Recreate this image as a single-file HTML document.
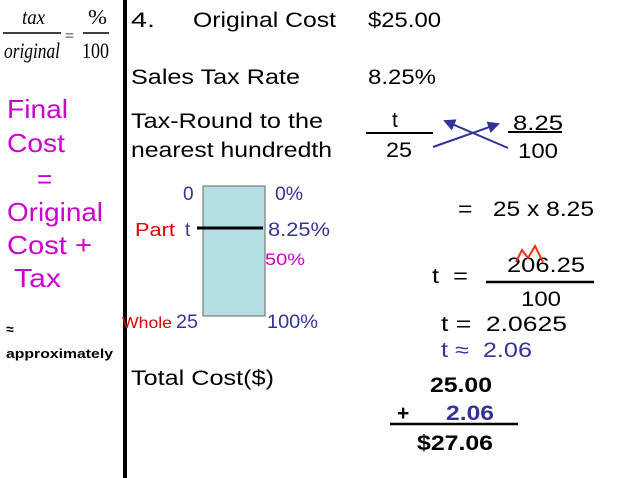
<!DOCTYPE html>
<html><head><meta charset="utf-8"><style>
html,body{margin:0;padding:0;background:#fff;width:638px;height:478px;overflow:hidden}
svg{display:block}
text{font-family:"Liberation Sans",Arial,sans-serif;white-space:pre}
.serif{font-family:"Liberation Serif",serif}
</style></head><body>
<svg width="638" height="478" viewBox="0 0 638 478">
<defs><marker id="ah" markerWidth="6" markerHeight="6" refX="5" refY="3" orient="auto"><path d="M0,0 L6,3 L0,6 Z" fill="#333399"/></marker></defs>
<rect x="123" y="0" width="4" height="478" fill="#000"/>
<g>
<text class="serif" x="22" y="24" font-size="21" font-style="italic" textLength="23" lengthAdjust="spacingAndGlyphs">tax</text>
<line x1="3" y1="33" x2="61" y2="33" stroke="#000" stroke-width="1.5"/>
<text class="serif" x="4" y="58" font-size="22" font-style="italic" textLength="56" lengthAdjust="spacingAndGlyphs">original</text>
<text class="serif" x="65" y="41" font-size="16">=</text>
<text class="serif" x="88" y="24" font-size="21" textLength="19" lengthAdjust="spacingAndGlyphs">%</text>
<line x1="83" y1="33" x2="109" y2="33" stroke="#000" stroke-width="1.5"/>
<text class="serif" x="82" y="58" font-size="22" textLength="27" lengthAdjust="spacingAndGlyphs">100</text>
</g>
<g fill="#cc00cc" font-size="26">
<text x="7" y="118" textLength="61" lengthAdjust="spacingAndGlyphs">Final</text>
<text x="7" y="152" textLength="58" lengthAdjust="spacingAndGlyphs">Cost</text>
<text x="37" y="188">=</text>
<text x="7" y="221" textLength="96" lengthAdjust="spacingAndGlyphs">Original</text>
<text x="7" y="254" textLength="85" lengthAdjust="spacingAndGlyphs">Cost +</text>
<text x="14" y="287" textLength="47" lengthAdjust="spacingAndGlyphs">Tax</text>
</g>
<g font-weight="bold">
<text x="6" y="334" font-size="14">≈</text><text x="6" y="358" font-size="13" textLength="107" lengthAdjust="spacingAndGlyphs">approximately</text>
</g>
<g font-size="21" fill="#000">
<text x="131" y="27" textLength="24" lengthAdjust="spacingAndGlyphs">4.</text>
<text x="193" y="27" textLength="143" lengthAdjust="spacingAndGlyphs">Original Cost</text>
<text x="368" y="27" textLength="73" lengthAdjust="spacingAndGlyphs">$25.00</text>
<text x="131" y="84" textLength="169" lengthAdjust="spacingAndGlyphs">Sales Tax Rate</text>
<text x="368" y="84" textLength="68" lengthAdjust="spacingAndGlyphs">8.25%</text>
<text x="131" y="128" textLength="192" lengthAdjust="spacingAndGlyphs">Tax-Round to the</text>
<text x="131" y="157" textLength="201" lengthAdjust="spacingAndGlyphs">nearest hundredth</text>
<text x="131" y="385" textLength="143" lengthAdjust="spacingAndGlyphs">Total Cost($)</text>
</g>
<g>
<rect x="203" y="186" width="62" height="130" fill="#b3dfe2" stroke="#666" stroke-width="1"/>
<line x1="197" y1="228" x2="263" y2="228" stroke="#000" stroke-width="3"/>
<g font-size="19" fill="#333399">
<text x="183" y="200">0</text><text x="275" y="200" textLength="28" lengthAdjust="spacingAndGlyphs">0%</text>
<text x="185" y="236">t</text><text x="268" y="236" textLength="62" lengthAdjust="spacingAndGlyphs">8.25%</text>
<text x="176" y="328" textLength="22" lengthAdjust="spacingAndGlyphs">25</text><text x="267" y="328" textLength="51" lengthAdjust="spacingAndGlyphs">100%</text>
</g>
<text x="135" y="236" font-size="18" fill="#e00000" textLength="40" lengthAdjust="spacingAndGlyphs">Part</text>
<text x="122" y="328" font-size="16" fill="#e00000" textLength="50" lengthAdjust="spacingAndGlyphs">Whole</text>
<text x="265" y="265" font-size="17" fill="#cc00cc" textLength="40" lengthAdjust="spacingAndGlyphs">50%</text>
</g>
<g font-size="21" fill="#000">
<text x="392" y="127">t</text><line x1="366" y1="133" x2="433" y2="133" stroke="#000" stroke-width="2"/>
<text x="386" y="157" textLength="26" lengthAdjust="spacingAndGlyphs">25</text>
<text x="513" y="130" textLength="50" lengthAdjust="spacingAndGlyphs">8.25</text><line x1="508" y1="132" x2="562" y2="132" stroke="#000" stroke-width="2"/>
<text x="518" y="158" textLength="40" lengthAdjust="spacingAndGlyphs">100</text>
<line x1="433" y1="147" x2="498" y2="124" stroke="#333399" stroke-width="2" marker-end="url(#ah)"/>
<line x1="508" y1="148" x2="445" y2="121" stroke="#333399" stroke-width="2" marker-end="url(#ah)"/>
<text x="458" y="216" textLength="136" lengthAdjust="spacingAndGlyphs">=   25 x 8.25</text>
<text x="432" y="283" textLength="36" lengthAdjust="spacingAndGlyphs">t  =</text>
<text x="507" y="272" textLength="78" lengthAdjust="spacingAndGlyphs">206.25</text>
<path d="M516,262 L522,250 L528,258 L535,246 L543,262" fill="none" stroke="#ee3311" stroke-width="2"/>
<line x1="486" y1="282" x2="594" y2="282" stroke="#000" stroke-width="2.5"/>
<text x="521" y="306" textLength="40" lengthAdjust="spacingAndGlyphs">100</text>
<text x="441" y="331" textLength="126" lengthAdjust="spacingAndGlyphs">t =  2.0625</text>
<text x="441" y="357" fill="#333399" textLength="91" lengthAdjust="spacingAndGlyphs">t ≈  2.06</text>
</g>
<g font-size="21" font-weight="bold">
<text x="430" y="392" textLength="62" lengthAdjust="spacingAndGlyphs">25.00</text>
<text x="397" y="420">+</text><text x="446" y="420" fill="#333399" textLength="48" lengthAdjust="spacingAndGlyphs">2.06</text>
<line x1="390" y1="424" x2="518" y2="424" stroke="#000" stroke-width="2.5"/>
<text x="417" y="450" textLength="76" lengthAdjust="spacingAndGlyphs">$27.06</text>
</g>
</svg>
</body></html>
